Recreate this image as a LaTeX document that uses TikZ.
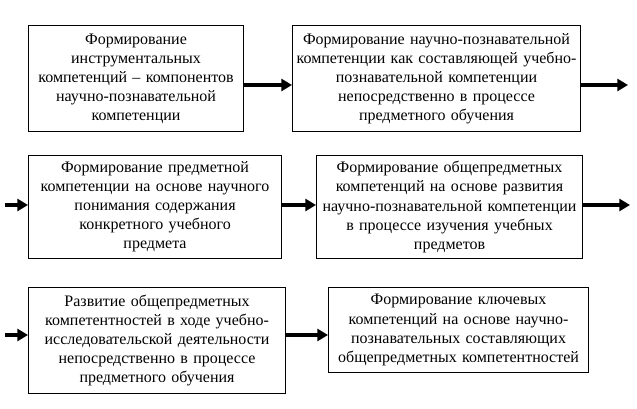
\documentclass[tikz,border=0pt]{standalone}
\usepackage{fontspec}
\setmainfont{Liberation Serif}
\usetikzlibrary{arrows.meta}
\begin{document}
\begin{tikzpicture}[x=0.75pt,y=-0.75pt,
  stagebox/.style={draw=black, line width=0.8pt, anchor=north west, align=center, inner sep=1pt, font=\fontsize{12}{14.3}\selectfont},
  flow/.style={line width=2.6pt, -{Triangle[length=8pt,width=9pt]}}]
\useasboundingbox (0,0) rectangle (637,409);
\node[stagebox, minimum width=215*0.75pt, minimum height=106*0.75pt, text width=212*0.75pt](A) at (28,25) {Формирование\\ инструментальных\\ компетенций – компонентов\\ научно-познавательной\\ компетенции};
\node[stagebox, minimum width=288*0.75pt, minimum height=106*0.75pt, text width=285*0.75pt](B) at (292,25) {Формирование научно-познавательной\\ компетенции как составляющей учебно-\\ познавательной компетенции\\ непосредственно в процессе\\ предметного обучения};
\node[stagebox, minimum width=253*0.75pt, minimum height=103*0.75pt, text width=250*0.75pt](C) at (28,155) {Формирование предметной\\ компетенции на основе научного\\ понимания содержания\\ конкретного учебного\\ предмета};
\node[stagebox, minimum width=266*0.75pt, minimum height=103*0.75pt, text width=263*0.75pt](D) at (316,155) {Формирование общепредметных\\ компетенций на основе развития\\ научно-познавательной компетенции\\ в процессе изучения учебных\\ предметов};
\node[stagebox, minimum width=257*0.75pt, minimum height=106*0.75pt, text width=254*0.75pt](E) at (28,287) {Развитие общепредметных\\ компетентностей в ходе учебно-\\ исследовательской деятельности\\ непосредственно в процессе\\ предметного обучения};
\node[stagebox, minimum width=260*0.75pt, minimum height=85*0.75pt, text width=257*0.75pt](F) at (328,287) {Формирование ключевых\\ компетенций на основе научно-\\ познавательных составляющих\\ общепредметных компетентностей};

\coordinate (b-out) at (628,85);
\coordinate (c-in) at (5,205);
\coordinate (d-out) at (630,205);
\coordinate (e-in) at (5,335);

\draw[flow] (A.east |- 0,85) -- (B.west |- 0,85);
\draw[flow] (B.east |- b-out) -- (b-out);
\draw[flow] (c-in) -- (C.west |- c-in);
\draw[flow] (C.east |- 0,205) -- (D.west |- 0,205);
\draw[flow] (D.east |- d-out) -- (d-out);
\draw[flow] (e-in) -- (E.west |- e-in);
\draw[flow] (E.east |- 0,335) -- (F.west |- 0,335);
\end{tikzpicture}
\end{document}
